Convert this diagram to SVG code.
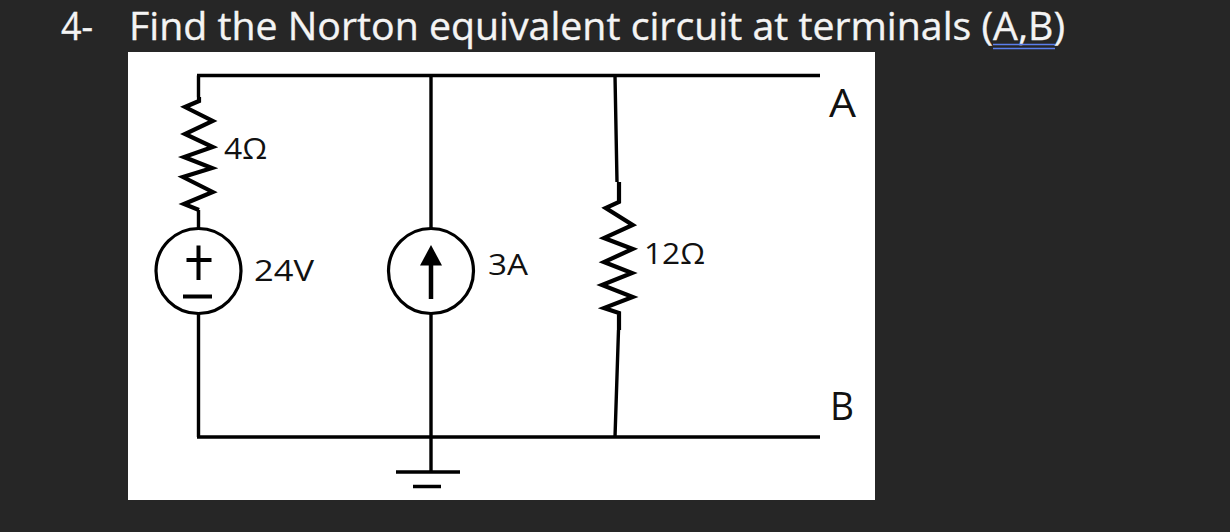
<svg xmlns="http://www.w3.org/2000/svg" width="1230" height="532" viewBox="0 0 1230 532">
<style>
.w{fill:none;stroke:#000;stroke-width:3.4}
.r{fill:none;stroke:#000;stroke-width:4.200;stroke-linejoin:miter}
.c{fill:#fff;stroke:#000;stroke-width:3.200}
.t{font-family:"Open Sans","Noto Sans",sans-serif;fill:#111}
.h{font-family:"Open Sans","Noto Sans",sans-serif;font-size:38px;fill:#f4f4f4;stroke:#f4f4f4;stroke-width:.35}
.l{font-size:30px}
.a{font-size:38px}
</style>
<rect width="1230" height="532" fill="#262626"/>
<text class="h" x="61" y="40" textLength="32" lengthAdjust="spacingAndGlyphs">4-</text>
<text class="h" x="129" y="40" textLength="936" lengthAdjust="spacingAndGlyphs">Find the Norton equivalent circuit at terminals (A,B)</text>
<g fill="none" stroke="#5b7fee" stroke-width="1.6"><path d="M993 44.500H1055M993 48.500H1055"/></g>
<rect x="128" y="52" width="747" height="448" fill="#fff"/>
<g id="connectors">
<path class="w" d="M197 75.500H820M198.500 75.500V97M198.500 210V228M198.500 313V437M197 437H820"/>
<path class="w" d="M431 75.500V228M431 314V437M431 437V471"/>
<path class="w" d="M615 75.500L617 182M618.500 330L615 437"/>
<path class="w" d="M396 472H460M413 486.500H441"/>
</g>
<g id="r4">
<path class="r" d="M199 97V101L185 107L212.700 121L185 134L212.700 147L184 157L212 168L183 177L212.700 192L184 204L199 210"/>
<text class="t l" x="224" y="159" textLength="43" lengthAdjust="spacingAndGlyphs">4Ω</text>
</g>
<g id="v24">
<circle class="c" cx="198.500" cy="271" r="42.500"/>
<path d="M186.500 260H211.500M198.500 245.500V280M183 296.500H212" fill="none" stroke="#000" stroke-width="4"/>
<text class="t l" x="254" y="281" textLength="60" lengthAdjust="spacingAndGlyphs">24V</text>
</g>
<g id="i3">
<circle class="c" cx="431" cy="271" r="42.500"/>
<path d="M431 245L420 265.500H442Z" fill="#000"/>
<path d="M431 265V299" stroke="#000" stroke-width="4.500" fill="none"/>
<text class="t l" x="488" y="275" textLength="40" lengthAdjust="spacingAndGlyphs">3A</text>
</g>
<g id="r12">
<path class="r" d="M619 182V202L605.700 208L632.700 225L604 238L632.700 249L604 262L632 273L602 285L632.700 297L604 308L619 313V330"/>
<text class="t l" x="644" y="264" textLength="61" lengthAdjust="spacingAndGlyphs">12Ω</text>
</g>
<g id="termA"><text class="t a" x="829" y="117" textLength="27" lengthAdjust="spacingAndGlyphs">A</text></g>
<g id="termB"><text class="t a" x="830" y="420" textLength="24" lengthAdjust="spacingAndGlyphs">B</text></g>
</svg>
